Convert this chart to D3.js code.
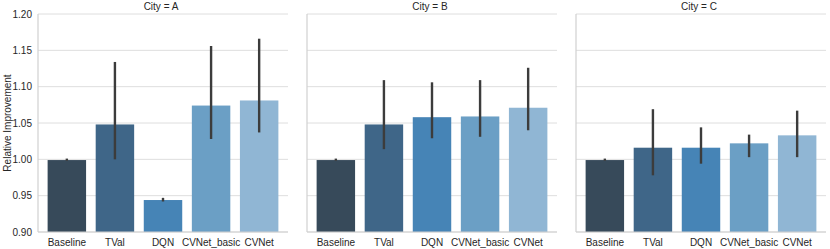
<!DOCTYPE html>
<html>
<head>
<meta charset="utf-8">
<script src="https://cdn.jsdelivr.net/npm/d3@7"></script>
<style>
  body { margin: 0; background: #fff; }
  text { font-family: "Liberation Sans", Arial, sans-serif; fill: #262626; }
</style>
</head>
<body>
<div id="chart"></div>
<script>
let width = 830;
let height = 249;

// data
const cities = ["A", "B", "C"];
const methods = ["Baseline", "TVal", "DQN", "CVNet_basic", "CVNet"];
const valuesA = [0.999, 1.048, 0.944, 1.074, 1.081];
const lowA    = [0.998, 1.000, 0.942, 1.028, 1.037];
const highA   = [1.001, 1.134, 0.947, 1.156, 1.166];
const valuesB = [0.999, 1.048, 1.058, 1.059, 1.071];
const lowB    = [0.998, 1.014, 1.029, 1.031, 1.040];
const highB   = [1.001, 1.109, 1.106, 1.109, 1.126];
const valuesC = [0.999, 1.016, 1.016, 1.022, 1.033];
const lowC    = [0.998, 0.978, 0.994, 1.003, 1.003];
const highC   = [1.001, 1.069, 1.044, 1.034, 1.067];
const yTicks = [0.90, 0.95, 1.00, 1.05, 1.10, 1.15, 1.20];
const colors = ["#374a5a", "#3f6688", "#4684b6", "#6b9fc5", "#90b6d4"];

const panels = [
    {city: cities[0], v: valuesA, lo: lowA, hi: highA},
    {city: cities[1], v: valuesB, lo: lowB, hi: highB},
    {city: cities[2], v: valuesC, lo: lowC, hi: highC}
];

const plotTop = 14, plotBottom = 232;
const panelW = 250;
const panelX = [38, 307, 576];

const yScale = d3.scaleLinear().domain([0.90, 1.20]).range([plotBottom, plotTop]);
const colorScale = d3.scaleOrdinal().domain(methods).range(colors);

const svg = d3.select("#chart").append("svg")
    .attr("width", width)
    .attr("height", height);

svg.append("text")
    .attr("transform", `translate(8,${(plotTop + plotBottom) / 2}) rotate(-90)`)
    .attr("text-anchor", "middle")
    .attr("dominant-baseline", "middle")
    .style("font-size", "10px")
    .text("Relative Improvement");

panels.forEach((p, i) => {
    const g = svg.append("g").attr("transform", `translate(${panelX[i]},0)`);
    const xScale = d3.scaleBand().domain(methods).range([0, panelW]).padding(0.2);

    // grid
    g.selectAll("line.grid").data(yTicks).join("line")
        .attr("class", "grid")
        .attr("x1", 0).attr("x2", panelW)
        .attr("y1", d => yScale(d)).attr("y2", d => yScale(d))
        .attr("stroke", "#dedede").attr("stroke-width", 1);

    // bars
    g.selectAll("rect").data(methods).join("rect")
        .attr("x", d => xScale(d))
        .attr("width", xScale.bandwidth())
        .attr("y", (d, j) => yScale(p.v[j]))
        .attr("height", (d, j) => plotBottom - yScale(p.v[j]))
        .attr("fill", d => colorScale(d));

    // error bars
    g.selectAll("line.err").data(methods).join("line")
        .attr("class", "err")
        .attr("x1", d => xScale(d) + xScale.bandwidth() / 2)
        .attr("x2", d => xScale(d) + xScale.bandwidth() / 2)
        .attr("y1", (d, j) => yScale(p.lo[j]))
        .attr("y2", (d, j) => yScale(p.hi[j]))
        .attr("stroke", "#3c3c3c").attr("stroke-width", 2.4);

    // spines
    g.append("line").attr("x1", 0).attr("x2", 0).attr("y1", plotTop).attr("y2", plotBottom)
        .attr("stroke", "#d0d0d0").attr("stroke-width", 1.2);
    g.append("line").attr("x1", 0).attr("x2", panelW).attr("y1", plotBottom).attr("y2", plotBottom)
        .attr("stroke", "#d0d0d0").attr("stroke-width", 1.2);

    // x axis labels
    const xAxis = d3.axisBottom(xScale).tickSize(0).tickPadding(7);
    const ax = g.append("g").attr("transform", `translate(0,${plotBottom})`).call(xAxis);
    ax.select(".domain").remove();
    ax.selectAll("text").style("font-size", "10px").attr("fill", "#262626")
        .style("font-family", "'Liberation Sans', Arial, sans-serif");

    if (i === 0) {
        const yAxis = d3.axisLeft(yScale).tickValues(yTicks).tickFormat(d3.format(".2f")).tickSize(0).tickPadding(6);
        const ay = g.append("g").call(yAxis);
        ay.select(".domain").remove();
        ay.selectAll("text").style("font-size", "10px").attr("fill", "#262626")
            .style("font-family", "'Liberation Sans', Arial, sans-serif");
    }

    g.append("text")
        .attr("x", panelW / 2 - 2).attr("y", 10)
        .attr("text-anchor", "middle")
        .style("font-size", "10px")
        .text("City = " + p.city);
});
</script>
</body>
</html>
